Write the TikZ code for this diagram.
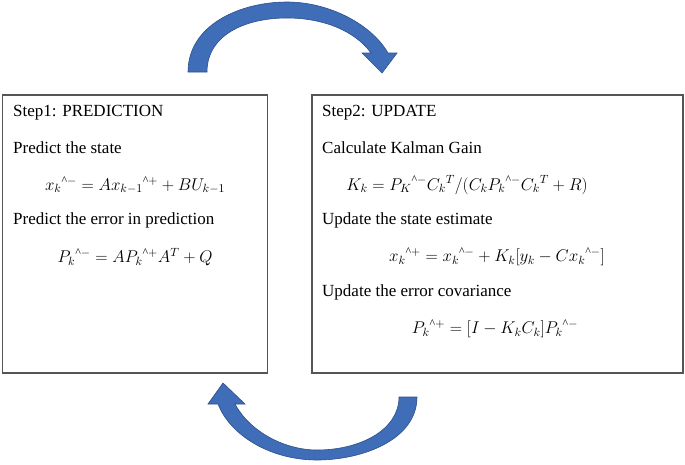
\documentclass[tikz,border=0pt]{standalone}
\usepackage{fix-cm}
\usepackage{amsmath}
\usepackage{fontspec}
\setmainfont{Liberation Serif}
\definecolor{arrowblue}{HTML}{3F6DB8}
\definecolor{arrowedge}{HTML}{2B4F8A}
\definecolor{boxgray}{HTML}{555555}
\newcommand{\hmin}{{}^{\text{\textasciicircum}-}}
\newcommand{\hplus}{{}^{\text{\textasciicircum}+}}
\tikzset{
  stepbox/.style={draw=boxgray, line width=1.4pt, inner sep=0pt},
  txt/.style={anchor=west, inner sep=0pt, font=\fontsize{17}{20}\selectfont},
  eqn/.style={anchor=center, inner sep=0pt, font=\fontsize{17}{20}\selectfont},
  bigarrow/.style={fill=arrowblue, draw=arrowedge, line width=0.6pt, line join=miter}
}
\begin{document}
\begin{tikzpicture}[x=1pt,y=-1pt]
\useasboundingbox (0,0) rectangle (685,464);
% boxes
\node[stepbox, minimum width=265pt, minimum height=278pt] (pred) at (135,234) {};
\node[stepbox, minimum width=371pt, minimum height=278pt] (upd) at (497.5,234) {};
% left texts
\node[txt] (s1) at (13,113) {Step1: PREDICTION};
\node[txt] (p1) at (13,148) {Predict the state};
\node[eqn] (e1) at (135,185) {$x_k\hmin = A x_{k-1}\hplus + B U_{k-1}$};
\node[txt] (p2) at (13,220) {Predict the error in prediction};
\node[eqn] (e2) at (135,257) {$P_k\hmin = A P_k\hplus A^T + Q$};
% right texts
\node[txt] (s2) at (322,113) {Step2: UPDATE};
\node[txt] (u1) at (322,148) {Calculate Kalman Gain};
\node[eqn] (e3) at (467,185) {$K_k = P_K\hmin C_k{}^T/(C_k P_k\hmin C_k{}^T + R)$};
\node[txt] (u2) at (322,220) {Update the state estimate};
\node[eqn] (e4) at (497,257) {$x_k\hplus = x_k\hmin + K_k[y_k - C x_k\hmin]$};
\node[txt] (u3) at (322,292) {Update the error covariance};
\node[eqn] (e5) at (495,329) {$P_k\hplus = [I - K_k C_k] P_k\hmin$};
% top curved arrow
\path[bigarrow] (188,72) .. controls (188,25) and (240,2) .. (287,2)
  .. controls (330,2) and (372,25) .. (388,53) -- (397,53) -- (382,73) -- (362,53) -- (371,53)
  .. controls (356,32) and (325,18) .. (287,18)
  .. controls (245,18) and (207,35) .. (207,72) -- cycle;
% bottom curved arrow
\path[bigarrow] (417,397) .. controls (417,440) and (362,460) .. (317,460)
  .. controls (270,460) and (230,435) .. (218,404) -- (208,404) -- (223,383) -- (245,404) -- (235,404)
  .. controls (250,432) and (285,450) .. (317,450)
  .. controls (360,450) and (399,430) .. (399,397) -- cycle;
\end{tikzpicture}
\end{document}
